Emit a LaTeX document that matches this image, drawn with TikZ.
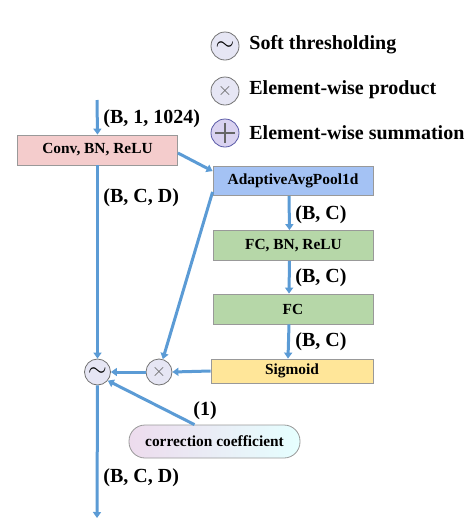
\documentclass[tikz,border=0pt]{standalone}
\usepackage{fontspec}
\setmainfont{Liberation Serif}
\usetikzlibrary{arrows.meta}

\definecolor{flowblue}{HTML}{5B9BD5}
\definecolor{convpink}{HTML}{F4CCCC}
\definecolor{poolblue}{HTML}{A4C2F4}
\definecolor{fcgreen}{HTML}{B6D7A8}
\definecolor{sigyellow}{HTML}{FFE699}
\definecolor{opfill}{HTML}{E6E6F4}
\definecolor{sumfill}{HTML}{D9D2F0}

\begin{document}
\begin{tikzpicture}[
  x=0.5pt, y=-0.5pt,
  font=\bfseries,
  layer/.style={draw=gray!80, minimum width=80pt, minimum height=15pt, inner sep=1pt, font=\bfseries\fontsize{7.7}{9}\selectfont},
  opcirc/.style={circle, draw=gray!90!black, fill=opfill, minimum size=13pt, inner sep=0pt},
  legcirc/.style={opcirc, minimum size=14pt},
  shape label/.style={anchor=west, inner sep=0pt, font=\bfseries\fontsize{10}{12}\selectfont},
  flow/.style={draw=flowblue, line width=1.5pt, -{Triangle[length=3pt,width=4pt]}}
]
  \useasboundingbox (0,0) rectangle (474,531);

  % Legend of the operators
  \node[legcirc] (legsoft) at (225,46) {\fontsize{12}{12}\selectfont$\sim$};
  \node[legcirc] (legmult) at (225,91) {\color{gray!80!black}\fontsize{9}{9}\selectfont$\times$};
  \node[legcirc, fill=sumfill, draw=blue!30!gray,
        path picture={\draw[gray!80!black, line width=0.6pt]
          ([yshift=-2pt]path picture bounding box.north) -- ([yshift=2pt]path picture bounding box.south)
          ([xshift=2pt]path picture bounding box.west) -- ([xshift=-2pt]path picture bounding box.east);}]
        (legsum) at (225,133) {};
  \node[shape label] (legsofttxt) at (249,45) {Soft thresholding};
  \node[shape label] (legmulttxt) at (249,90) {Element-wise product};
  \node[shape label] (legsumtxt)  at (249,133) {Element-wise summation};

  % Main path
  \coordinate (in)  at (97,100);
  \coordinate (out) at (97,518);
  \node[layer, fill=convpink] (conv) at (97.5,150) {Conv, BN, ReLU};
  \node[opcirc] (soft) at (97.5,372) {\fontsize{12}{12}\selectfont$\sim$};

  % Threshold branch
  \node[layer, fill=poolblue, minimum height=14.5pt] (pool) at (293,181) {AdaptiveAvgPool1d};
  \node[layer, fill=fcgreen] (fcbn) at (293.5,245.5) {FC, BN, ReLU};
  \node[layer, fill=fcgreen] (fc)   at (293,309) {FC};
  \node[layer, fill=sigyellow, minimum width=81pt, minimum height=12pt] (sig) at (292,371) {Sigmoid};
  \node[opcirc] (mult) at (159,372) {\color{gray!80!black}\fontsize{9}{9}\selectfont$\times$};
  \node[layer, rounded corners=8pt, left color=violet!14, right color=cyan!10,
        minimum width=85.5pt, minimum height=16.5pt] (corr) at (214.5,441.5) {correction coefficient};

  % Shape labels
  \node[shape label] (l0) at (103,119) {(B, 1, 1024)};
  \node[shape label] (l1) at (103,198) {(B, C, D)};
  \node[shape label] (l2) at (295,215) {(B, C)};
  \node[shape label] (l3) at (295,278) {(B, C)};
  \node[shape label] (l4) at (295,342) {(B, C)};
  \node[shape label] (l5) at (193,411) {(1)};
  \node[shape label] (l6) at (103,478) {(B, C, D)};

  % Connectors
  \draw[flow] (in) -- (conv.north);
  \draw[flow] (conv.south) -- (soft.north);
  \draw[flow] ([yshift=-1.5pt]conv.east) -- ([yshift=-2.5pt]pool.north west);
  \draw[flow] ([xshift=-2pt]pool.south) -- ([xshift=-2pt]fcbn.north);
  \draw[flow] ([xshift=-2pt]fcbn.south) -- ([xshift=-2pt]fc.north);
  \draw[flow] ([xshift=-2pt]fc.south) -- ([xshift=-2pt]sig.north);
  \draw[flow] ([yshift=2pt]pool.south west) -- (mult);
  \draw[flow] (sig.west) -- (mult.east);
  \draw[flow] (mult.west) -- (soft.east);
  \draw[flow] ([xshift=-10pt]corr.north) -- (soft.-40);
  \draw[flow] (soft.south) -- (out);

\end{tikzpicture}
\end{document}
